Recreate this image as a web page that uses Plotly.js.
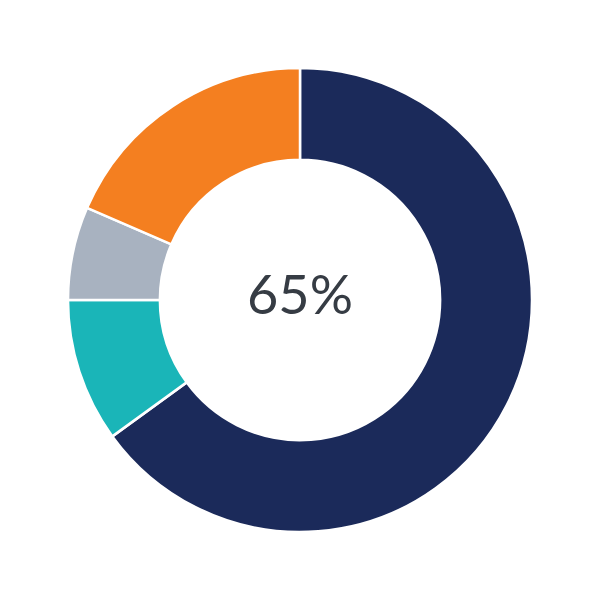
<!DOCTYPE html>
<html>
<head>
<meta charset="utf-8">
<script src="https://cdn.plot.ly/plotly-3.0.1.min.js"></script>
<style>
  html, body { margin: 0; padding: 0; background: #ffffff; }
  #chart { width: 600px; height: 600px; }
</style>
</head>
<body>
<div id="chart"></div>
<script>
    const labels = ['Primary', 'Secondary', 'Other', 'Remaining'];
    const values = [65, 10, 6.5, 18.5];
    const colors = ['#1b2a5a', '#1ab5b8', '#a8b2c0', '#f47f20'];
    const centerLabel = '65%';

    const trace = {
        type: 'pie',
        labels: labels,
        values: values,
        sort: false,
        direction: 'clockwise',
        rotation: 0,
        hole: 0.604,
        textinfo: 'none',
        hoverinfo: 'label+percent',
        marker: {colors: colors, line: {color: '#ffffff', width: 2.5}},
        domain: {x: [68 / 600, 532 / 600], y: [68 / 600, 532 / 600]},
    };

    const layout = {
        width: 600,
        height: 600,
        margin: {l: 0, r: 0, t: 0, b: 0},
        paper_bgcolor: '#ffffff',
        showlegend: false,
        annotations: [{
            text: centerLabel,
            x: 0.5,
            y: 0.5,
            xref: 'paper',
            yref: 'paper',
            showarrow: false,
            yshift: 7,
            font: {family: 'Lato, sans-serif', size: 54, color: '#363c44'},
        }],
    };

    Plotly.newPlot('chart', [trace], layout, {displayModeBar: false});
</script>
</body>
</html>
